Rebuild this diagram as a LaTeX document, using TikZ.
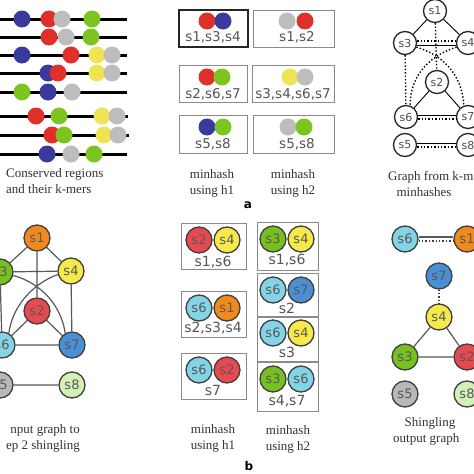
\documentclass[tikz,border=0pt]{standalone}
\usepackage{fontspec}
\setmainfont{Liberation Serif}
\setsansfont{DejaVu Sans}
\usetikzlibrary{positioning}
\definecolor{kblue}{HTML}{3A3A9E}
\definecolor{kred}{HTML}{E0302A}
\definecolor{kgray}{HTML}{BDBDBD}
\definecolor{kgreen}{HTML}{7CC520}
\definecolor{kyellow}{HTML}{EFE455}
\definecolor{sorange}{HTML}{F08A1C}
\definecolor{sgreen}{HTML}{78C020}
\definecolor{syellow}{HTML}{F5EA4A}
\definecolor{sred}{HTML}{E64A50}
\definecolor{scyan}{HTML}{82D4E6}
\definecolor{sblue}{HTML}{4A8ED4}
\definecolor{sgray}{HTML}{B8B8B8}
\definecolor{spale}{HTML}{D2F0B8}
\definecolor{boxline}{HTML}{8A8A8A}
\definecolor{labgray}{HTML}{555555}
\tikzset{
  wnode/.style={circle, draw=black!85, line width=1.3pt, fill=white, minimum size=23pt, inner sep=0pt, text=black!70, font=\sffamily\fontsize{11}{11}\selectfont},
  cnode/.style={circle, draw=black!75, line width=1.3pt, minimum size=26pt, inner sep=0pt, text=black!65, font=\sffamily\fontsize{13}{13}\selectfont},
  hbox/.style={draw=boxline, line width=1pt},
  dotline/.style={dotted, line width=1.4pt},
  glink/.style={draw=black!65, line width=1.2pt},
  captext/.style={font=\fontsize{13}{16}\selectfont, align=center, text=black!80, inner sep=0pt},
  boxtext/.style={font=\sffamily\fontsize{13.5}{14}\selectfont, text=labgray, inner sep=0pt},
  bigtext/.style={font=\sffamily\fontsize{14}{14}\selectfont, text=labgray, inner sep=0pt},
}
\begin{document}
\begin{tikzpicture}[x=1pt,y=-1pt]
  \useasboundingbox (0,0) rectangle (474,474);
  \fill[white] (0,0) rectangle (474,474);
  \clip (0,0) rectangle (474,474);

  % a: conserved regions with their k-mers
  \foreach \y/\e/\row in {19/127/{22/kblue,49/kred,62/kgray,92/kgreen},
      37/127/{49/kred,66/kgray,91/kgreen},
      55/127/{22/kblue,71/kred,97/kyellow,112/kgray},
      73/127/{48/kblue,58/kred,97/kyellow,112/kgray},
      92/127/{22/kgreen,48/kblue,72/kgray},
      116/128/{36/kred,59/kgreen,102/kyellow,117/kgray},
      135/129/{52/kred,64/kgreen,104/kyellow,118/kgray},
      154/127/{47/kblue,71/kgray,94/kgreen}} {
    \draw[line width=3pt] (0,\y) -- (\e,\y);
    \foreach \x/\c in \row
      \fill[\c] (\x,\y) circle (8.5);
  }
  \node[captext, anchor=west, align=left] (kcap) at (6,181) {Conserved regions\\and their k-mers};

  % a: minhash boxes
  \draw[draw=black!85, line width=1.6pt] (179,10) rectangle (248,47);
  \draw[hbox] (253,10) rectangle (334,47);
  \draw[hbox] (179,65) rectangle (247,102);
  \draw[hbox] (252,65) rectangle (334,102);
  \draw[hbox] (179,115) rectangle (247,153);
  \draw[hbox] (253,115) rectangle (334,153);
  \foreach \x/\y/\c in {207/21/kred,223/21/kblue,287/21/kgray,305/21/kred,
      207/77/kred,222/77/kgreen,290/77/kyellow,305/77/kgray,
      207/127/kblue,223/127/kgreen,288/127/kgray,304/127/kgreen}
    \fill[\c] (\x,\y) circle (8.5);
  \node[boxtext] (ha1) at (213,37) {s1,s3,s4};
  \node[boxtext] (hb1) at (297,37) {s1,s2};
  \node[boxtext] (ha2) at (213,94) {s2,s6,s7};
  \node[boxtext] (hb2) at (293,94) {s3,s4,s6,s7};
  \node[boxtext] (ha3) at (213,144) {s5,s8};
  \node[boxtext] (hb3) at (297,144) {s5,s8};
  \node[captext] (hcapa) at (212,183) {minhash\\using h1};
  \node[captext] (hcapb) at (293,183) {minhash\\using h2};

  % a: graph from k-mer minhashes
  \node[wnode] (t1) at (435,11) {s1};
  \node[wnode] (t3) at (405,43) {s3};
  \node[wnode] (t4) at (468,43) {s4};
  \node[wnode] (t2) at (437,82) {s2};
  \node[wnode] (t6) at (406,117) {s6};
  \node[wnode] (t7) at (468,117) {s7};
  \node[wnode] (t5) at (405,145) {s5};
  \node[wnode] (t8) at (468,145) {s8};
  \draw[line width=0.9pt] (t1) -- (t3) (t1) -- (t4) (t2) -- (t6) (t2) -- (t7);
  \draw[dotline] (t1) -- (t2) (t3) -- (t6);
  \draw[dotline] ([yshift=2pt]t3.east) -- ([yshift=2pt]t4.west);
  \draw[line width=0.9pt] ([yshift=-2pt]t3.east) -- ([yshift=-2pt]t4.west);
  \draw[line width=0.9pt] ([yshift=2pt]t6.east) -- ([yshift=2pt]t7.west);
  \draw[dotline] ([yshift=-2pt]t6.east) -- ([yshift=-2pt]t7.west);
  \draw[line width=0.9pt] ([yshift=2pt]t5.east) -- ([yshift=2pt]t8.west);
  \draw[dotline] ([yshift=-2pt]t5.east) -- ([yshift=-2pt]t8.west);
  \draw[dotline] (t3.-20) .. controls (440,54) and (462,72) .. (t7.110);
  \draw[dotline] (t4.200) .. controls (434,54) and (410,72) .. (t6.70);
  \node[captext, anchor=west] (tcap1) at (388,177) {Graph from k-m};
  \node[captext] (tcap2) at (424,192) {minhashes};
  \node[font=\sffamily\bfseries\fontsize{12}{12}\selectfont] (laba) at (248,205) {a};

  % b: input graph to step 2 shingling
  \node[cnode, fill=sorange] (l1) at (37,238) {s1};
  \node[cnode, fill=sgreen] (l3) at (0,272) {s3};
  \node[cnode, fill=syellow] (l4) at (71,271) {s4};
  \node[cnode, fill=sred] (l2) at (37,311) {s2};
  \node[cnode, fill=scyan] (l6) at (2,345) {s6};
  \node[cnode, fill=sblue] (l7) at (72,345) {s7};
  \node[cnode, fill=sgray] (l5) at (0,385) {s5};
  \node[cnode, fill=spale] (l8) at (72,385) {s8};
  \draw[glink] (l1) -- (l3) (l1) -- (l4) (l1) -- (l2) (l3) -- (l4) (l3) -- (l6)
    (l4) -- (l7) (l2) -- (l6) (l2) -- (l7) (l6) -- (l7) (l5) -- (l8);
  \draw[glink] (l3.-15) .. controls (32,280) and (60,298) .. (l7.120);
  \draw[glink] (l4.195) .. controls (42,280) and (14,298) .. (l6.60);
  \node[captext, anchor=east, align=right] (lcap) at (80,438) {nput graph to\\ep 2 shingling};

  % b: minhash boxes
  \draw[hbox] (181,223) rectangle (246,269);
  \draw[hbox] (181,291) rectangle (246,337);
  \draw[hbox] (181,353) rectangle (246,399);
  \draw[hbox] (257,222) rectangle (318,270);
  \draw[hbox] (257,273) rectangle (318,316);
  \draw[hbox] (257,317) rectangle (318,361);
  \draw[hbox] (257,362) rectangle (318,411);
  \node[cnode, fill=sred] (ma1) at (199,240) {s2};
  \node[cnode, fill=syellow] (ma2) at (227,240) {s4};
  \node[bigtext] (mal) at (213,262) {s1,s6};
  \node[cnode, fill=scyan] (mb1) at (199,308) {s6};
  \node[cnode, fill=sorange] (mb2) at (227,308) {s1};
  \node[bigtext] (mbl) at (213,328) {s2,s3,s4};
  \node[cnode, fill=scyan] (mc1) at (199,370) {s6};
  \node[cnode, fill=sred] (mc2) at (227,370) {s2};
  \node[bigtext] (mcl) at (213,390) {s7};
  \node[cnode, fill=sgreen] (md1) at (273,239) {s3};
  \node[cnode, fill=syellow] (md2) at (301,239) {s4};
  \node[bigtext] (mdl) at (287,260) {s1,s6};
  \node[cnode, fill=scyan] (me1) at (273,290) {s6};
  \node[cnode, fill=sblue] (me2) at (301,290) {s7};
  \node[bigtext] (mel) at (287,308) {s2};
  \node[cnode, fill=scyan] (mf1) at (273,333) {s6};
  \node[cnode, fill=syellow] (mf2) at (301,333) {s4};
  \node[bigtext] (mfl) at (287,352) {s3};
  \node[cnode, fill=sgreen] (mg1) at (273,379) {s3};
  \node[cnode, fill=scyan] (mg2) at (301,379) {s6};
  \node[bigtext] (mgl) at (287,401) {s4,s7};
  \node[captext] (mcapa) at (213,438) {minhash\\using h1};
  \node[captext] (mcapb) at (288,439) {minhash\\using h2};
  \node[font=\sffamily\bfseries\fontsize{12}{12}\selectfont] (labb) at (249,466) {b};

  % b: shingling output graph
  \node[cnode, fill=scyan] (r6) at (405,239) {s6};
  \node[cnode, fill=sorange] (r1) at (467,239) {s1};
  \node[cnode, fill=sblue] (r7) at (439,276) {s7};
  \node[cnode, fill=syellow] (r4) at (439,317) {s4};
  \node[cnode, fill=sgreen] (r3) at (405,357) {s3};
  \node[cnode, fill=sred] (r2) at (467,357) {s2};
  \node[cnode, fill=sgray] (r5) at (405,394) {s5};
  \node[cnode, fill=spale] (r8) at (467,394) {s8};
  \draw[glink] ([yshift=2pt]r6.east) -- ([yshift=2pt]r1.west);
  \draw[dotline, black!75] ([yshift=-2pt]r6.east) -- ([yshift=-2pt]r1.west);
  \draw[dotline, black!75] (r7) -- (r4);
  \draw[glink] (r4) -- (r3) (r4) -- (r2) (r3) -- (r2);
  \node[captext] (rcap1) at (430,423) {Shingling};
  \node[captext, anchor=west] (rcap2) at (393,439) {output graph};
\end{tikzpicture}
\end{document}
